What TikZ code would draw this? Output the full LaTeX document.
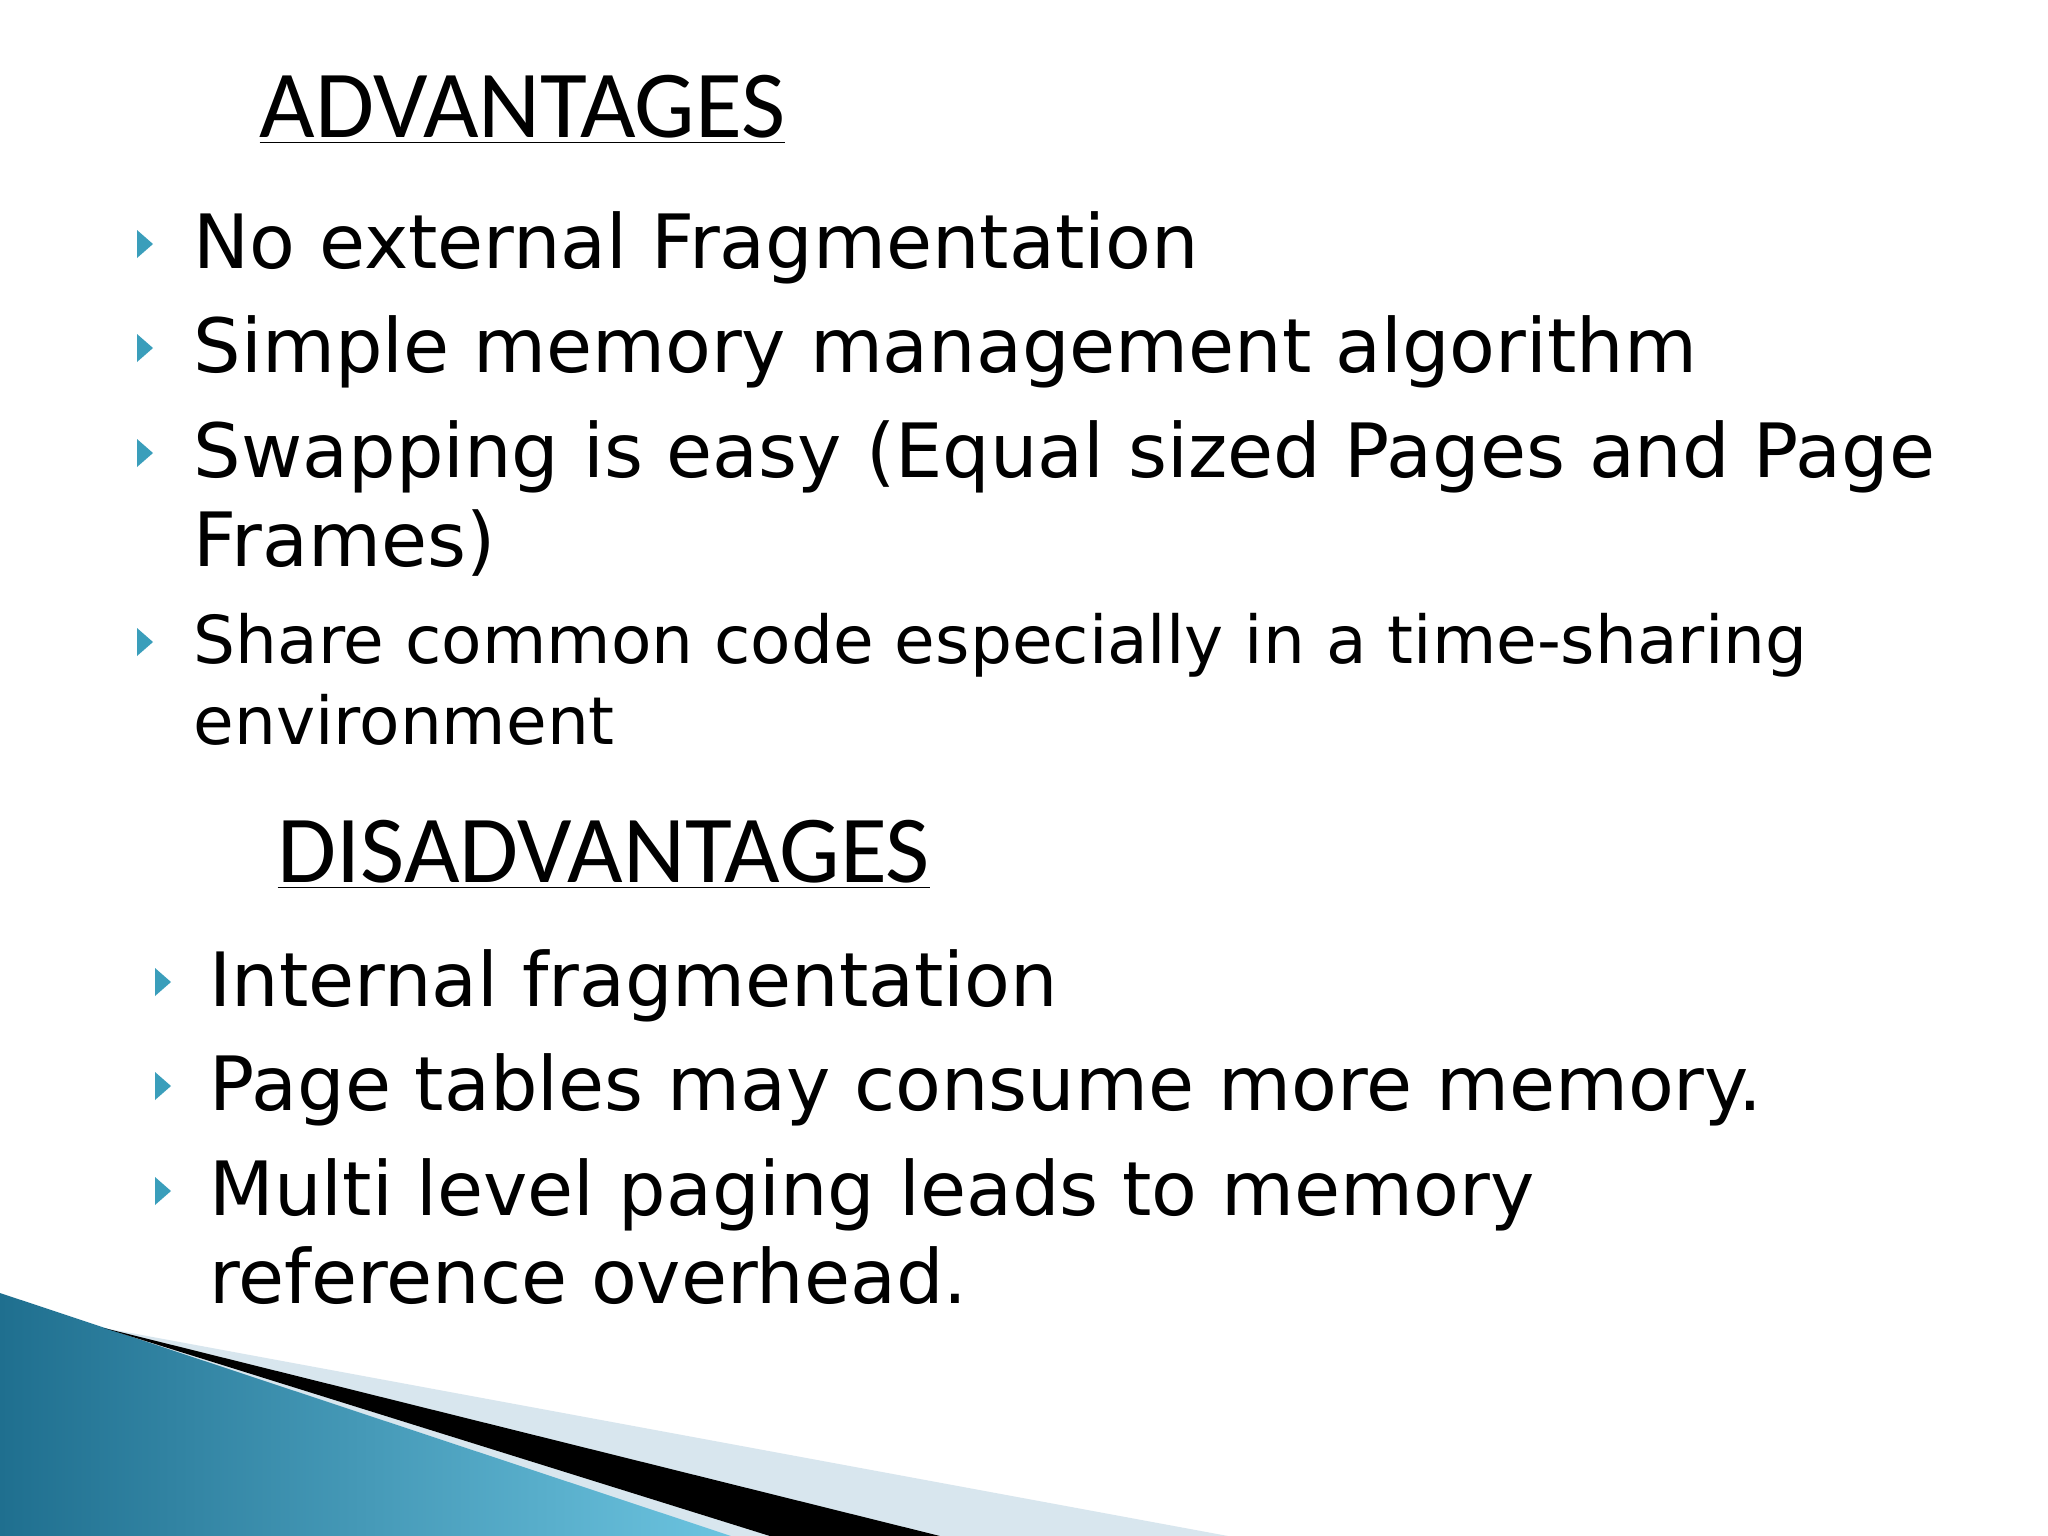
\documentclass[tikz,border=0pt]{standalone}
\usepackage{fontspec}
\setmainfont{DejaVu Sans}
\newfontfamily\titlefont{Carlito}
\definecolor{bul}{HTML}{3A9EBB}
\definecolor{band}{HTML}{D8E6EE}
\definecolor{deepblue}{HTML}{1F6F8F}
\definecolor{lightblue}{HTML}{6CC4E0}
\begin{document}
\begin{tikzpicture}[x=0.01cm,y=-0.01cm,
  item/.style={anchor=base west,inner sep=0pt,font=\fontsize{21.3pt}{26pt}\selectfont},
  small/.style={anchor=base west,inner sep=0pt,font=\fontsize{18.8pt}{22pt}\selectfont},
  ttl/.style={anchor=base west,inner sep=0pt,font=\titlefont\fontsize{27.3pt}{32pt}\selectfont},
  bullet/.style={fill=bul}]
\useasboundingbox (0,0) rectangle (2048,1536);
\fill[white] (0,0) rectangle (2048,1536);
% bottom decoration
\fill[band] (0,1310) -- (104,1328) -- (1228,1536) -- (0,1536) -- cycle;
\shade[left color=deepblue, right color=lightblue] (0,1293) -- (731,1536) -- (0,1536) -- cycle;
\fill[black] (104,1328) -- (940,1536) -- (770,1536) -- cycle;
% titles
\node[ttl] (t1) at (259,137) {\underline{ADVANTAGES}};
\node[ttl] (t2) at (277,882) {\underline{DISADVANTAGES}};
% advantages
\foreach \y in {268,372,477}{\fill[bullet] (137,\y-38) -- (153,\y-24) -- (137,\y-10) -- cycle;}
\fill[bullet] (137,663-35) -- (153,663-21) -- (137,663-7) -- cycle;
\node[item] (a1) at (193,268) {No external Fragmentation};
\node[item] (a2) at (193,372) {Simple memory management algorithm};
\node[item] (a3) at (193,477) {Swapping is easy (Equal sized Pages and Page};
\node[item] (a3b) at (193,566) {Frames)};
\node[small] (a4) at (193,663) {Share common code especially in a time-sharing};
\node[small] (a4b) at (193,744) {environment};
% disadvantages
\foreach \y in {1006,1110,1215}{\fill[bullet] (155,\y-38) -- (171,\y-24) -- (155,\y-10) -- cycle;}
\node[item] (d1) at (209,1006) {Internal fragmentation};
\node[item] (d2) at (209,1110) {Page tables may consume more memory.};
\node[item] (d3) at (209,1215) {Multi level paging leads to memory};
\node[item] (d3b) at (209,1303) {reference overhead.};
\end{tikzpicture}
\end{document}
